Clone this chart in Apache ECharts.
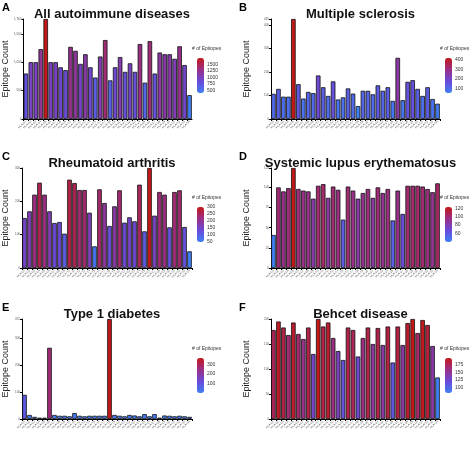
<!DOCTYPE html>
<html>
<head>
<meta charset="utf-8">
<script src="https://cdn.jsdelivr.net/npm/echarts@6/dist/echarts.min.js"></script>
<style>html,body{margin:0;background:#fff}#chart{width:474px;height:451px}</style>
</head>
<body>
<div id="chart"></div>
<script>
// 34 categories per panel (labels unreadable in the source, placeholders)
var categories = [];
for (var i = 1; i <= 34; i++) { categories.push('HLA-' + (i < 10 ? '0' + i : i)); }

var panelTitles = ['All autoimmune diseases', 'Multiple sclerosis', 'Rheumatoid arthritis',
                   'Systemic lupus erythematosus', 'Type 1 diabetes', 'Behcet disease'];
var panelLetters = ['A', 'B', 'C', 'D', 'E', 'F'];

var allAutoimmune = [800,1000,1000,1230,1760,1000,1000,910,860,1270,1200,970,1140,910,730,1100,1390,680,910,1090,830,980,830,1320,640,1370,800,1170,1140,1140,1060,1280,950,420];
var multipleSclerosis = [107,128,95,95,425,148,87,115,110,185,135,98,160,83,92,130,108,55,120,120,105,143,120,135,77,260,80,158,165,128,98,135,85,65];
var rheumatoid = [150,170,220,256,220,170,135,138,103,265,255,234,234,166,65,236,195,126,185,233,136,152,140,250,110,300,157,228,220,122,228,233,123,50];
var lupus = [41,100,95,99,124,98,96,95,86,102,104,87,101,97,60,101,96,86,93,98,87,100,93,98,59,96,67,102,102,102,101,98,94,105];
var type1Diabetes = [90,15,8,5,5,265,15,12,12,10,22,12,10,12,12,12,12,372,15,12,10,15,13,10,18,10,18,5,13,12,10,12,10,8];
var behcet = [178,195,183,168,193,170,160,183,130,200,185,193,162,136,118,183,178,125,162,183,150,182,148,185,113,185,148,192,200,172,198,188,146,83];

var seriesData = [allAutoimmune, multipleSclerosis, rheumatoid, lupus, type1Diabetes, behcet];
var intervals = [500, 100, 100, 25, 100, 50];
var legendTicks = [[500,750,1000,1250,1500],[100,200,300,400],[50,100,150,200,250,300],[60,80,100,120],[100,200,300],[100,125,150,175]];

var chart = echarts.init(document.getElementById('chart'));
var colors = ['#3f80f6', '#6a4ad8', '#9a2f86', '#c41818'];

var grids = [], xAxes = [], yAxes = [], series = [], titles = [], visualMaps = [], graphics = [];
var rowTop = [0, 149, 300];
seriesData.forEach(function (data, k) {
    var col = k % 2, row = Math.floor(k / 2);
    var x0 = col * 237, y0 = rowTop[row];
    var left = col ? x0 + 34 : x0 + 22;
    var width = col ? 169 : 170;
    var legX = col ? x0 + 208 : x0 + 197;
    grids.push({left: left, top: y0 + 19, width: width, height: 100});
    xAxes.push({type: 'category', gridIndex: k, data: categories,
        axisLine: {lineStyle: {color: '#000', width: 1}}, axisTick: {show: true, length: 2, lineStyle: {color: '#000'}},
        axisLabel: {rotate: 45, fontSize: 3, color: '#555', interval: 0, margin: 2}});
    yAxes.push({type: 'value', gridIndex: k, min: 0, max: 'dataMax', interval: intervals[k],
        name: 'Epitope Count', nameLocation: 'middle', nameGap: col ? 20 : 12,
        nameTextStyle: {fontSize: 9, color: '#222', fontFamily: 'Liberation Sans'},
        splitLine: {show: false},
        axisLine: {show: true, lineStyle: {color: '#000', width: 1}}, axisTick: {show: true, length: 2, lineStyle: {color: '#000'}},
        axisLabel: {fontSize: 3, color: '#555', margin: 2}});
    series.push({type: 'bar', xAxisIndex: k, yAxisIndex: k, data: data, barCategoryGap: '8%',
        itemStyle: {borderColor: '#111', borderWidth: 0.8}});
    titles.push({text: panelTitles[k], left: left + width / 2, top: y0 + 3, textAlign: 'center',
        textStyle: {fontSize: 13, fontWeight: 'bold', color: '#111', fontFamily: 'Liberation Sans'}});
    var mn = Math.min.apply(null, data), mx = Math.max.apply(null, data);
    visualMaps.push({type: 'continuous', seriesIndex: k, min: mn, max: mx, calculable: false,
        left: legX, top: y0 + 58, itemWidth: 7, itemHeight: 35, padding: 0, text: null,
        showLabel: false, inRange: {color: colors}});
    graphics.push({type: 'text', left: x0 + 2, top: y0 + 2,
        style: {text: panelLetters[k], font: 'bold 11px Liberation Sans', fill: '#000'}});
    graphics.push({type: 'text', left: legX - 5, top: y0 + 46,
        style: {text: '# of Epitopes', font: '5px Liberation Sans', fill: '#333'}});
    legendTicks[k].forEach(function (t) {
        var frac = (t - mn) / (mx - mn);
        if (frac < 0 || frac > 1) return;
        graphics.push({type: 'text', left: legX + 10, top: y0 + 58 + 35 * (1 - frac) - 3,
            style: {text: String(t), font: '5px Liberation Sans', fill: '#333'}});
    });
});

chart.setOption({
    animation: false,
    title: titles,
    grid: grids,
    xAxis: xAxes,
    yAxis: yAxes,
    visualMap: visualMaps,
    series: series,
    graphic: graphics
});
</script>
</body>
</html>
